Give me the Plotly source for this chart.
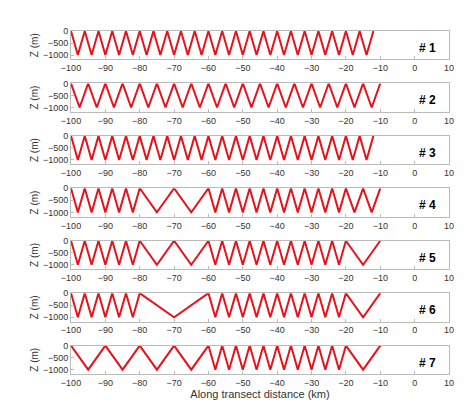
import plotly.graph_objects as go
from plotly.subplots import make_subplots

# Vertex x positions (km) of each transect; depth alternates 0 / -1000 m
x1 = [-100,-98,-96,-94,-92,-90,-88,-86,-84,-82,-80,-78,-76,-74,-72,-70,-68,-66,-64,-62,-60,-58,-56,-54,-52,-50,-48,-46,-44,-42,-40,-38,-36,-34,-32,-30,-28,-26,-24,-22,-20,-18,-16,-14,-12]
x2 = [-100,-97.5,-95,-92.5,-90,-87.5,-85,-82.5,-80,-77.5,-75,-72.5,-70,-67.5,-65,-62.5,-60,-57.5,-55,-52.5,-50,-47.5,-45,-42.5,-40,-37.5,-35,-32.5,-30,-27.5,-25,-22.5,-20,-17.5,-15,-12.5,-10]
x3 = [-100,-98,-96,-94,-92,-90,-88,-86,-84,-82,-80,-78,-76,-74,-72,-70,-68,-66,-64,-62,-60,-58,-56,-54,-52,-50,-48,-46,-44,-42,-40,-38,-36,-34,-32,-30,-28,-26,-24,-22,-20,-18,-16,-14,-12]
x4 = [-100,-98,-96,-94,-92,-90,-88,-86,-84,-82,-80,-75,-70,-65,-60,-58,-56,-54,-52,-50,-48,-46,-44,-42,-40,-38,-36,-34,-32,-30,-28,-26,-24,-22,-20,-17.5,-15,-12.5,-10]
x5 = [-100,-98,-96,-94,-92,-90,-88,-86,-84,-82,-80,-75,-70,-65,-60,-58,-56,-54,-52,-50,-48,-46,-44,-42,-40,-38,-36,-34,-32,-30,-28,-26,-24,-22,-20,-15,-10]
x6 = [-100,-98,-96,-94,-92,-90,-88,-86,-84,-82,-80,-70,-60,-58,-56,-54,-52,-50,-48,-46,-44,-42,-40,-38,-36,-34,-32,-30,-28,-26,-24,-22,-20,-15,-10]
x7 = [-100,-95,-90,-85,-80,-75,-70,-65,-60,-58,-56,-54,-52,-50,-48,-46,-44,-42,-40,-38,-36,-34,-32,-30,-28,-26,-24,-22,-20,-15,-10]
depths = [0, -1000]
labels = ["# 1", "# 2", "# 3", "# 4", "# 5", "# 6", "# 7"]
xticks = [-100,-90,-80,-70,-60,-50,-40,-30,-20,-10,0,10]
yticks = [0, -500, -1000]

series = [x1, x2, x3, x4, x5, x6, x7]
fig = make_subplots(rows=7, cols=1, vertical_spacing=0.07)
for i, xs in enumerate(series):
    zs = [depths[j % 2] for j in range(len(xs))]
    fig.add_trace(go.Scatter(x=xs, y=zs, mode="lines", line=dict(color="#e8121b", width=2),
                             showlegend=False), row=i+1, col=1)
    fig.update_xaxes(range=[-100, 10], tickvals=xticks, row=i+1, col=1)
    fig.update_yaxes(range=[-1180, 0], tickvals=yticks, title_text="Z (m)", row=i+1, col=1)
    fig.add_annotation(text="<b>"+labels[i]+"</b>", x=0.97, y=0.72, xref=f"x{i+1 if i else ''} domain",
                       yref=f"y{i+1 if i else ''} domain", showarrow=False,
                       font=dict(size=12, color="black"), xanchor="right")

fig.update_xaxes(showline=True, linecolor="#bbbbbb", mirror=True, ticks="inside", ticklen=3,
                 tickcolor="#bbbbbb", showgrid=False, zeroline=False,
                 tickfont=dict(size=9, color="#333"))
fig.update_yaxes(showline=True, linecolor="#bbbbbb", mirror=True, ticks="inside", ticklen=3,
                 tickcolor="#bbbbbb", showgrid=False, zeroline=False,
                 tickfont=dict(size=9, color="#333"), title_font=dict(size=10, color="#333"),
                 title_standoff=2)
fig.update_xaxes(title_text="Along transect distance (km)", title_font=dict(size=11, color="#333"),
                 title_standoff=2, row=7, col=1)
fig.update_layout(width=474, height=418, margin=dict(l=63, r=33, t=23, b=52),
                  plot_bgcolor="white", paper_bgcolor="white",
                  font=dict(family="Liberation Sans"))
fig.write_html("out.html")
